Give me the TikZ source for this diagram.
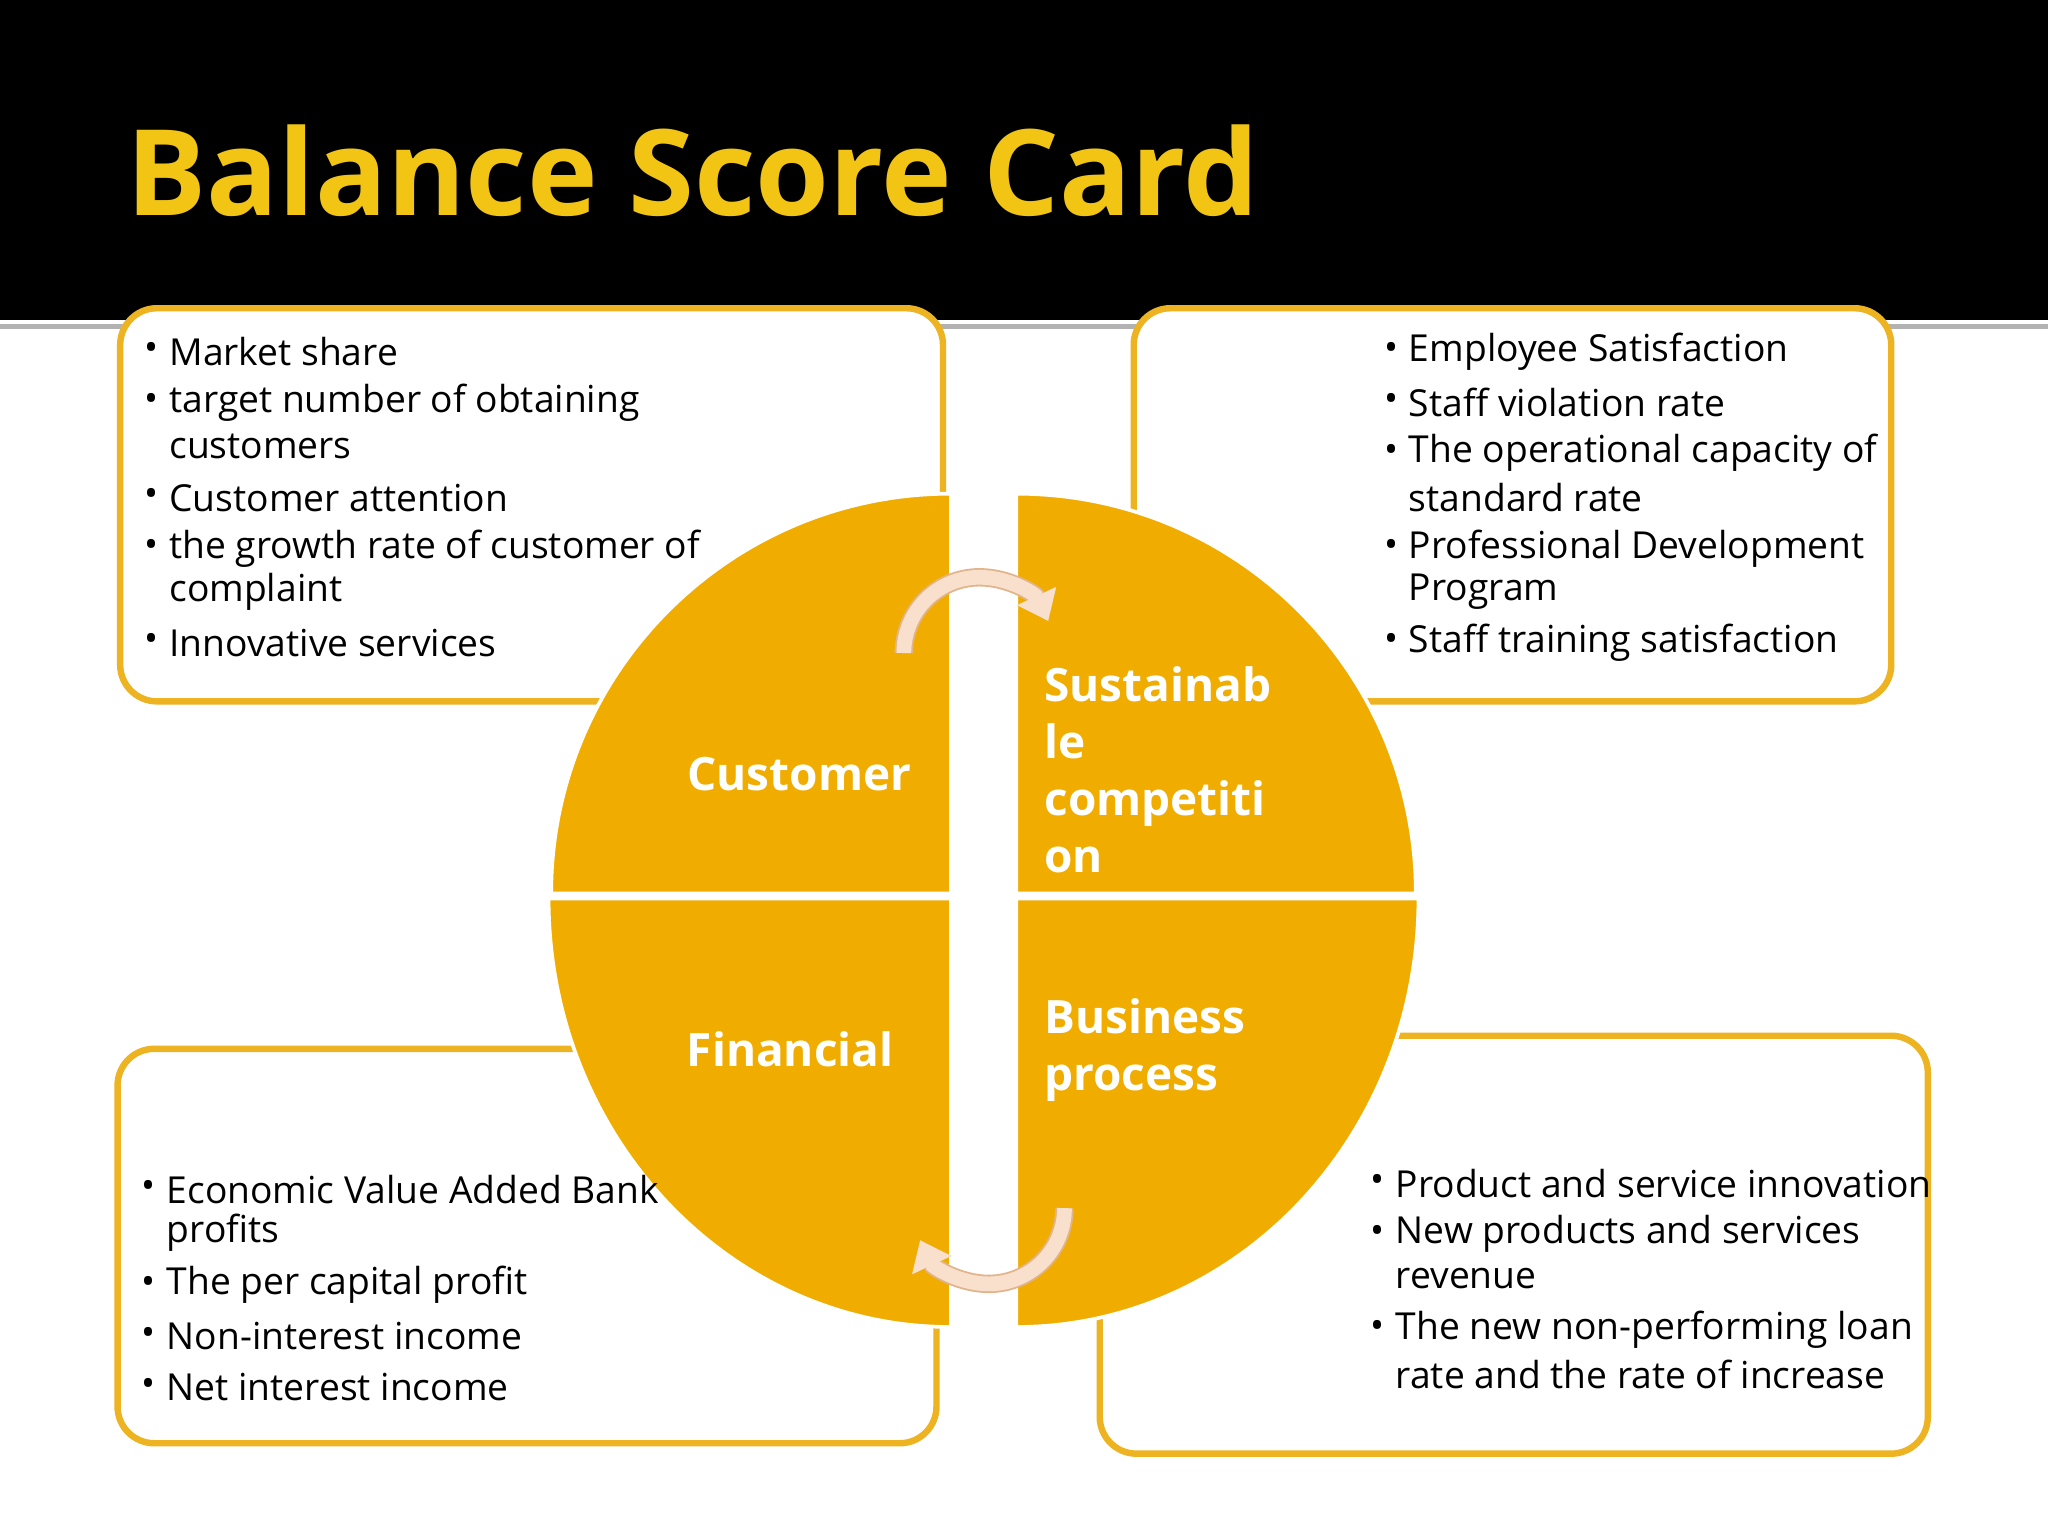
\documentclass[tikz,border=0pt]{standalone}
\usepackage{fontspec}
\setmainfont{Open Sans}
\usetikzlibrary{arrows.meta}
\definecolor{gold}{HTML}{F0AD00}
\definecolor{goldline}{HTML}{EDB320}
\definecolor{peach}{HTML}{F8E0CC}
\definecolor{peachline}{HTML}{E2B48C}
\definecolor{titleyellow}{HTML}{F2C515}
\tikzset{
  cardbox/.style={draw=goldline,line width=1.4pt,rounded corners=8pt,fill=white},
  quad/.style={fill=gold,draw=white,line width=0.8pt},
  qlabel/.style={text=white,font=\bfseries\fontsize{10}{12.4}\selectfont,inner sep=0},
  item/.style={anchor=west,inner sep=0,font=\fontsize{8.1}{10}\selectfont,text=black},
  bul/.style={anchor=center,inner sep=0,font=\fontsize{8.1}{10}\selectfont},
  cyc/.style={line width=3.2pt,peach,preaction={draw=peachline,line width=4pt}}
}
\begin{document}
\begin{tikzpicture}[x=0.01cm,y=0.01cm]
\useasboundingbox (0,0) rectangle (1568,1176);
\fill[white] (0,0) rectangle (1568,1176);
\fill[black] (0,931) rectangle (1568,1176);
\fill[gray!60] (0,924) rectangle (1568,928);
\node[anchor=base west,inner sep=0,text=titleyellow,font=\bfseries\fontsize{26}{30}\selectfont] (title) at (96,1011) {Balance Score Card};
% boxes
\draw[cardbox] (92,639) rectangle (722,940);
\draw[cardbox] (868,639) rectangle (1448,940);
\draw[cardbox] (90,71) rectangle (717,373);
\draw[cardbox] (842,63) rectangle (1476,383);
% quadrants
\draw[quad] (422,492) arc[start angle=180,end angle=90,radius=306] -- (728,492) -- cycle;
\draw[quad] (778,798) arc[start angle=90,end angle=0,radius=306] -- (778,492) -- cycle;
\draw[quad] (420,488) arc[start angle=180,end angle=270,x radius=308,y radius=328] -- (728,488) -- cycle;
\draw[quad] (1086,488) arc[start angle=0,end angle=-90,x radius=308,y radius=328] -- (778,488) -- cycle;
% cycle arrows
\coordinate (a1) at (692,676);
\coordinate (a2) at (815,251);
\draw[cyc,-{Triangle[length=6pt,width=9pt]}] (a1) arc[start angle=180,end angle=25,radius=58];
\draw[cyc,-{Triangle[length=6pt,width=9pt]}] (a2) arc[start angle=0,end angle=-155,radius=58];
% labels
\node[qlabel] (cust) at (612,583) {Customer};
\node[qlabel] (fin) at (605,373) {Financial};
\node[qlabel,anchor=north west,align=left] (sus) at (799,666) {Sustainab\\le\\competiti\\on};
\node[qlabel,anchor=north west,align=left] (bus) at (799,412) {Business\\process};
% TL items
\foreach \n/\b/\y/\t in {1/1/907/Market share,2/1/868/target number of obtaining,3/0/834/customers,4/1/795/Customer attention,5/1/756/the growth rate of customer of,6/0/723/complaint,7/1/684/Innovative services}{
  \node[item] (tl\n) at (129,\y) {\t};
  \ifnum\b=1 \node[bul] (tlb\n) at (116,\y) {•};\fi
}
\foreach \n/\b/\y/\t in {1/1/907/Employee Satisfaction,2/1/868/Staff violation rate,3/1/829/{ The operational capacity of},4/0/795/standard rate,5/1/756/Professional Development,6/0/723/Program,7/1/684/Staff training satisfaction}{
  \node[item] (tr\n) at (1078,\y) {\t};
  \ifnum\b=1 \node[bul] (trb\n) at (1065,\y) {•};\fi
}
\foreach \n/\b/\y/\t in {1/1/265/Economic Value Added Bank,2/0/232/profits,3/1/192/The per capital profit,4/1/153/Non-interest income,5/1/114/Net interest income}{
  \node[item] (bl\n) at (127,\y) {\t};
  \ifnum\b=1 \node[bul] (blb\n) at (114,\y) {•};\fi
}
\foreach \n/\b/\y/\t in {1/1/270/Product and service innovation,2/1/231/New products and services,3/0/197/revenue,4/1/158/The new non-performing loan,5/0/124/rate and the rate of increase}{
  \node[item] (br\n) at (1068,\y) {\t};
  \ifnum\b=1 \node[bul] (brb\n) at (1055,\y) {•};\fi
}
\end{tikzpicture}
\end{document}
